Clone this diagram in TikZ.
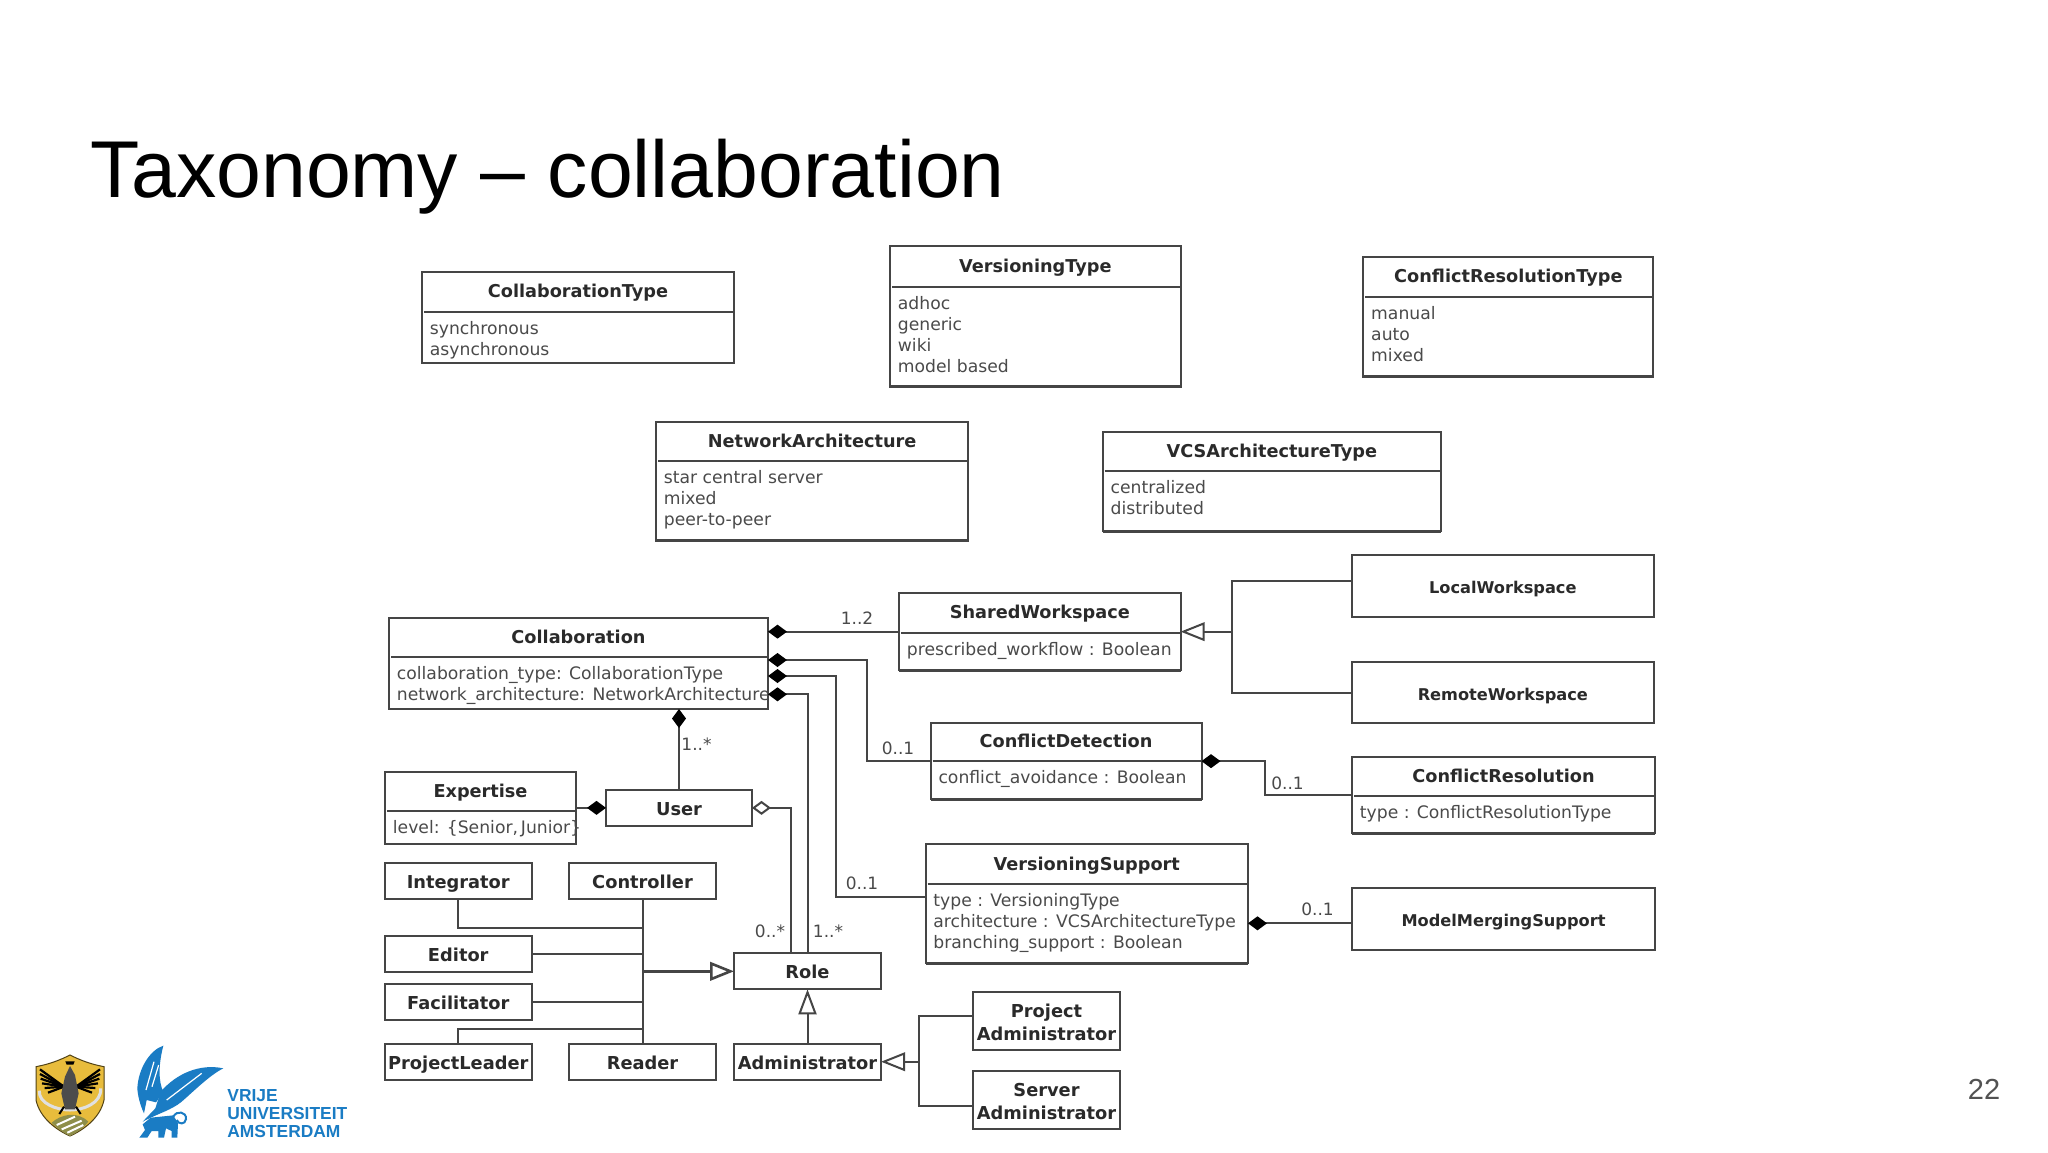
\documentclass[tikz,border=0pt]{standalone}
\usepackage{fontspec}
\usepackage{tikz}
\usetikzlibrary{arrows.meta,fit}
\setmainfont{DejaVu Sans}
\newfontfamily\slidefont{Liberation Sans}

\definecolor{umlline}{HTML}{454545}
\definecolor{umltext}{HTML}{2A2A2A}
\definecolor{vublue}{HTML}{1A7CC4}
\definecolor{shieldyellow}{HTML}{E8BC3C}
\definecolor{hillgreen}{HTML}{8E8E4A}

\tikzset{
	classbox/.style={draw=umlline, line width=1pt, inner sep=0pt, outer sep=0pt},
	plainlabel/.style={inner sep=0pt, align=center, text=umltext, font=\fontsize{8.9}{11.5}\selectfont\bfseries},
	classtitle/.style={inner sep=0pt, text=umltext, text height=6.4pt, text depth=1.8pt, font=\fontsize{8.85}{10.5}\selectfont\bfseries},
	classattr/.style={inner sep=0pt, anchor=north west, align=left, text=umltext!85!white, font=\fontsize{8.6}{10.5}\selectfont},
	multiplicity/.style={inner sep=0pt, text=umltext!85!white, font=\fontsize{8.5}{10.5}\selectfont},
	conn/.style={draw=umlline, line width=1pt},
	comp/.style={conn, {Diamond[length=9.5pt, width=7pt, fill=black, color=black]}-},
	compend/.style={conn, -{Diamond[length=9.5pt, width=7pt, fill=black, color=black]}},
	aggr/.style={conn, {Diamond[open, length=9.5pt, width=7pt, fill=white]}-},
	inherit/.style={conn, -{Triangle[open, length=12pt, width=9.3pt, fill=white]}},
	heavyedge/.style={draw=umlline, line width=1.5pt}
}

% name, left, top, right, bottom, separator, title, attributes
\newcommand{\umlclass}[8]{
	\coordinate (#1a) at (#2,#3);
	\coordinate (#1b) at (#4,#5);
	\node[classbox, fit=(#1a)(#1b)] (#1) {};
	\draw[conn] (#2+2,#6) -- (#4,#6);
	\node[classtitle] (#1title) at ({(#2+#4)/2},{(#3+#6)/2+1.3}) {#7};
	\node[classattr] (#1attr) at (#2+7.5,#6+7.5) {\strut #8};
}

% name, left, top, right, bottom, text
\newcommand{\umlbox}[6]{
	\coordinate (#1a) at (#2,#3);
	\coordinate (#1b) at (#4,#5);
	\node[classbox, fit=(#1a)(#1b)] (#1) {};
	\node[plainlabel] (#1label) at ({(#2+#4)/2},{(#3+#5)/2+3}) {\strut #6\strut};
}

% Names in the wide boxes are set smaller.
\newcommand{\widename}{\fontsize{8.1}{11.5}\selectfont}

\begin{document}
\begin{tikzpicture}[x=0.5pt, y=-0.5pt]
	\path[fill=white, use as bounding box] (0,0) rectangle (2048,1152);

	% Slide title and page number.
	\node[anchor=base west, inner sep=0pt, font=\slidefont\fontsize{40.3}{48}\selectfont] (slideTitle) at (90.5,197.3) {Taxonomy – collaboration};
	\node[anchor=base east, inner sep=0pt, text=black!68, font=\slidefont\fontsize{14.5}{17}\selectfont] (pageNumber) at (2000.5,1099) {22};

	% Enumeration classes.
	\umlclass{CollaborationType}{422}{271.7}{734}{362.7}{311.7}{CollaborationType}{synchronous\\asynchronous}
	\umlclass{VersioningType}{890}{246}{1180.7}{386.7}{286.7}{VersioningType}{adhoc\\generic\\wiki\\model based}
	\umlclass{ConflictResolutionType}{1363.3}{256.7}{1653.3}{376.7}{296.7}{ConflictResolutionType}{manual\\auto\\mixed}
	\umlclass{NetworkArchitecture}{656}{421.7}{968.3}{540.7}{460.7}{NetworkArchitecture}{star central server\\mixed\\peer-to-peer}
	\umlclass{VCSArchitectureType}{1102.7}{431.7}{1441}{531}{471}{VCSArchitectureType}{centralized\\distributed}

	% Classes with attributes.
	\umlclass{Collaboration}{389}{618.3}{768}{709}{657.3}{Collaboration}{collaboration\_type: CollaborationType\\network\_architecture: NetworkArchitecture}
	\umlclass{SharedWorkspace}{899}{593.3}{1180.6}{670}{632.7}{SharedWorkspace}{prescribed\_workflow : Boolean}
	\umlclass{ConflictDetection}{930.6}{723}{1201.5}{799.3}{761}{ConflictDetection}{conflict\_avoidance : Boolean}
	\umlclass{ConflictResolution}{1352}{756.7}{1655}{833.3}{796}{ConflictResolution}{type : ConflictResolutionType}
	\umlclass{VersioningSupport}{925.5}{844.3}{1248}{963.3}{884}{VersioningSupport}{type : VersioningType\\architecture : VCSArchitectureType\\branching\_support : Boolean}
	\umlclass{Expertise}{385}{771.7}{576}{844.3}{811}{Expertise}{level: \{Senior,\,Junior\}}

	% Heavier bottom edges.
	\foreach \boxname in {VersioningType,ConflictResolutionType,NetworkArchitecture,VCSArchitectureType,SharedWorkspace,ConflictDetection,ConflictResolution,VersioningSupport}
		\draw[heavyedge] (\boxname.south west) -- (\boxname.south east);

	% Plain classes.
	\umlbox{LocalWorkspace}{1352}{555}{1653.6}{616.7}{\widename LocalWorkspace}
	\umlbox{RemoteWorkspace}{1352}{661.7}{1653.6}{723.3}{\widename RemoteWorkspace}
	\umlbox{ModelMergingSupport}{1352}{888.3}{1655}{950}{\widename ModelMergingSupport}
	\umlbox{User}{606}{789.7}{752}{826}{User}
	\umlbox{Integrator}{384.5}{862.7}{532}{899.3}{Integrator}
	\umlbox{Controller}{569}{862.7}{716}{899.3}{Controller}
	\umlbox{Editor}{384.5}{935.7}{532}{971.7}{Editor}
	\umlbox{Facilitator}{384.5}{983.7}{532}{1020}{Facilitator}
	\umlbox{ProjectLeader}{384.5}{1043.7}{532}{1079.7}{ProjectLeader}
	\umlbox{Reader}{569}{1043.7}{716}{1079.7}{Reader}
	\umlbox{Role}{734}{953.3}{881}{989.3}{Role}
	\umlbox{Administrator}{734}{1043.7}{881}{1079.7}{Administrator}
	\umlbox{ProjectAdmin}{973}{992.3}{1120}{1050}{Project\\Administrator}
	\umlbox{ServerAdmin}{973}{1071.3}{1120}{1129.3}{Server\\Administrator}

	% Free ends on the box edges.
	\coordinate (colA) at (Collaboration.east |- 0,660);
	\coordinate (colB) at (Collaboration.east |- 0,676);
	\coordinate (colC) at (Collaboration.east |- 0,694.3);
	\coordinate (versionIn) at (VersioningSupport.west |- 0,897);
	\coordinate (resolveIn) at (ConflictResolution.west |- 0,795);
	\coordinate (mergeOut) at (VersioningSupport.east |- 0,923.3);
	\coordinate (roleIn) at (Role.north -| 791,0);
	\coordinate (localIn) at (LocalWorkspace.west |- 0,580.7);
	\coordinate (projectIn) at (ProjectAdmin.west |- 0,1016);
	\coordinate (serverIn) at (ServerAdmin.west |- 0,1106);
	\coordinate (trunkA) at (Controller.south |- 0,928.3);
	\coordinate (trunkB) at (Controller.south |- 0,1029);
	\coordinate (sharedJoin) at (1231.6,0 |- SharedWorkspace.east);
	\coordinate (adminJoin) at (919,0 |- Administrator.east);

	% Composition.
	\draw[comp] (SharedWorkspace.west -| Collaboration.east) -- (SharedWorkspace.west);
	\draw[comp] (colA) -- ++(99,0) |- (ConflictDetection.west);
	\draw[comp] (colB) -- ++(68,0) |- (versionIn);
	\draw[comp] (colC) -| (Role.north);
	\draw[compend] (User.north) -- (User.north |- Collaboration.south);
	\draw[comp] (User.west) -- (User.west -| Expertise.east);
	\draw[comp] (ConflictDetection.east) -- ++(63.3,0) |- (resolveIn);
	\draw[comp] (mergeOut) -- (mergeOut -| ModelMergingSupport.west);
	\draw[aggr] (User.east) -| (roleIn);

	% Inheritance.
	\draw[inherit] (sharedJoin) -- (SharedWorkspace.east);
	\draw[conn] (localIn) -| (sharedJoin) |- (RemoteWorkspace.west);
	\draw[conn] (Controller.south) -- (Reader.north);
	\draw[conn] (Integrator.south) |- (trunkA);
	\draw[conn] (Editor.east) -- (Editor.east -| Controller.south);
	\draw[conn] (Facilitator.east) -- (Facilitator.east -| Controller.south);
	\draw[conn] (ProjectLeader.north) |- (trunkB);
	\draw[inherit, line width=1.3pt] (Controller.south |- Role.west) -- (Role.west);
	\draw[conn, -{Triangle[open, length=12.5pt, width=9pt, fill=white]}] (Administrator.north) -- (Role.south);
	\draw[inherit] (adminJoin) -- (Administrator.east);
	\draw[conn] (projectIn) -| (adminJoin) |- (serverIn);

	% Multiplicities.
	\node[multiplicity] (multShared) at (857,618) {1..2};
	\node[multiplicity] (multDetect) at (898,748) {0..1};
	\node[multiplicity] (multUser) at (696.5,744) {1..*};
	\node[multiplicity] (multRoleA) at (770,931) {0..*};
	\node[multiplicity] (multRoleB) at (828,931) {1..*};
	\node[multiplicity] (multVersion) at (862,883) {0..1};
	\node[multiplicity] (multResolve) at (1287.5,783) {0..1};
	\node[multiplicity] (multMerge) at (1317.5,909) {0..1};

	% Shield logo.
	\begin{scope}[shift={(20,1050)}, x=0.16667pt, y=-0.16667pt]
		\fill[shieldyellow, draw=black!65!shieldyellow, line width=0.5pt]
			(150,15) .. controls (120,30) and (90,42) .. (48,50)
			-- (48,150) .. controls (60,205) and (110,240) .. (150,258)
			.. controls (190,240) and (240,205) .. (252,150) -- (252,50)
			.. controls (210,42) and (180,30) .. (150,15) -- cycle;
		% Hill.
		\fill[hillgreen] (95,218) .. controls (120,195) and (170,180) .. (205,215) .. controls (190,235) and (170,248) .. (150,258) .. controls (130,248) and (110,235) .. (95,218) -- cycle;
		\draw[white, line width=1pt] (110,225) -- (165,200) (125,238) -- (185,212) (142,248) -- (190,225);
		% Ribbon.
		\draw[black!12, line width=1.5pt] (58,122) .. controls (55,160) and (110,180) .. (150,180) .. controls (190,180) and (245,160) .. (242,115);
		% Wings.
		\foreach \wx/\wy in {60/58,60/72,62/86,66/100,74/114,84/128} {
			\draw[black, line width=1.1pt] (132,110) -- (\wx,\wy);
			\draw[black, line width=1.1pt] (168,110) -- (300-\wx,\wy);
		}
		% Body, legs and crown.
		\fill[black!70] (150,48) -- (165,75) -- (176,130) -- (165,178) -- (135,178) -- (124,130) -- (135,80) -- cycle;
		\draw[black, line width=1pt] (132,170) -- (118,192) (168,170) -- (182,192);
		\fill[black] (136,34) -- (164,34) -- (160,44) -- (140,44) -- cycle;
	\end{scope}

	% Griffin logo.
	\begin{scope}[shift={(130,1045)}, x=0.16667pt, y=-0.16667pt]
		\fill[vublue] (100,2) .. controls (60,15) and (25,70) .. (22,130) .. controls (23,150) and (30,180) .. (42,205)
			-- (50,165) -- (78,172) -- (100,140) .. controls (85,110) and (85,60) .. (100,2) -- cycle;
		\fill[vublue] (280,70) .. controls (210,55) and (140,85) .. (92,140) -- (76,190) -- (38,230)
			.. controls (85,205) and (125,195) .. (155,170) .. controls (195,135) and (240,90) .. (280,70) -- cycle;
		\draw[white, line width=0.6pt] (48,135) -- (72,50) (66,125) -- (86,60) (110,165) -- (215,85);
		\fill[vublue] (28,278) -- (45,255) -- (38,238) -- (62,218) -- (130,211) -- (144,235) -- (142,278) -- (125,278) -- (125,258) -- (108,250) -- (102,278) -- (85,278) -- (85,258) -- (65,258) -- (52,278) -- cycle;
		\draw[vublue, line width=1pt] (130,215) .. controls (140,195) and (170,200) .. (168,222) .. controls (166,240) and (145,238) .. (140,225);
	\end{scope}
	\node[anchor=south west, inner sep=0pt, align=left, text=vublue, font=\slidefont\fontsize{8.7}{9}\selectfont\bfseries] (vuName) at (227,1138.5) {VRIJE\\UNIVERSITEIT\\AMSTERDAM};
\end{tikzpicture}
\end{document}
